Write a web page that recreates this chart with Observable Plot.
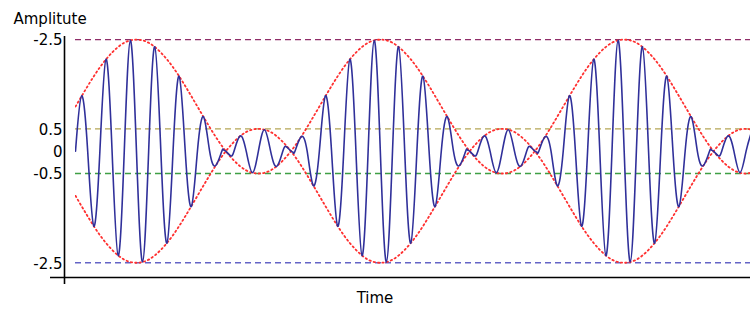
<!DOCTYPE html>
<html><head><meta charset="utf-8">
<script src="https://cdn.jsdelivr.net/npm/d3@7"></script>
<script src="https://cdn.jsdelivr.net/npm/@observablehq/plot@0.6"></script>
<style>body{margin:0;background:#fff}</style>
</head><body><div id="chart"></div>
<script>
// Signal: zero crossings and extrema
const sigT = [
  0,0.25,0.5,0.75,1,1.25,1.5,1.75,2,2.25,2.5,2.75,3,3.25,3.5,3.75,4,4.25,4.5,4.75,5,5.25,5.5,5.75,6,6.07,6.16,6.35,6.5,6.75,7,7.25,7.5,7.75,8,8.25,8.5,8.65,8.84,8.93,9,9.25,9.5,9.75,
  10,10.25,10.5,10.75,11,11.25,11.5,11.75,12,12.25,12.5,12.75,13,13.25,13.5,13.75,14,14.25,14.5,14.75,15,15.25,15.5,15.75,16,16.07,16.16,16.35,16.5,16.75,17,17.25,17.5,17.75,18,18.25,18.5,18.65,18.84,18.93,19,19.25,19.5,19.75,
  20,20.25,20.5,20.75,21,21.25,21.5,21.75,22,22.25,22.5,22.75,23,23.25,23.5,23.75,24,24.25,24.5,24.75,25,25.25,25.5,25.75,26,26.07,26.16,26.35,26.5,26.75,27,27.25,27.5,27.75
];
const sigV = [
  0,1.24,0,-1.68,0,2.06,0,-2.34,0,2.48,0,-2.48,0,2.34,0,-2.06,0,1.68,0,-1.24,0,0.77,0,-0.32,0,0.03,0,-0.1,0,0.34,0,-0.48,0,0.48,0,-0.34,0,0.1,0,-0.03,0,0.32,0,-0.77,
  0,1.24,0,-1.68,0,2.06,0,-2.34,0,2.48,0,-2.48,0,2.34,0,-2.06,0,1.68,0,-1.24,0,0.77,0,-0.32,0,0.03,0,-0.1,0,0.34,0,-0.48,0,0.48,0,-0.34,0,0.1,0,-0.03,0,0.32,0,-0.77,
  0,1.24,0,-1.68,0,2.06,0,-2.34,0,2.48,0,-2.48,0,2.34,0,-2.06,0,1.68,0,-1.24,0,0.77,0,-0.32,0,0.03,0,-0.1,0,0.34,0,-0.48,0,0.48
];
// Envelope (red dotted curves)
const envT = [0,0.5,1,1.5,2,2.5,3,3.5,4,4.5,5,5.5,6,6.5,7,7.5,8,8.5,9,9.5,10,10.5,11,11.5,12,12.5,13,13.5,14,14.5,15,15.5,16,16.5,17,17.5,18,18.5,19,19.5,20,20.5,21,21.5,22,22.5,23,23.5,24,24.5,25,25.5,26,26.5,27,27.5,28];
const envUpper = [1,1.46,1.88,2.21,2.43,2.5,2.43,2.21,1.88,1.46,1,0.54,0.12,-0.21,-0.43,-0.5,-0.43,-0.21,0.12,0.54,
  1,1.46,1.88,2.21,2.43,2.5,2.43,2.21,1.88,1.46,1,0.54,0.12,-0.21,-0.43,-0.5,-0.43,-0.21,0.12,0.54,
  1,1.46,1.88,2.21,2.43,2.5,2.43,2.21,1.88,1.46,1,0.54,0.12,-0.21,-0.43,-0.5,-0.43];
const envLower = [-1,-1.46,-1.88,-2.21,-2.43,-2.5,-2.43,-2.21,-1.88,-1.46,-1,-0.54,-0.12,0.21,0.43,0.5,0.43,0.21,-0.12,-0.54,
  -1,-1.46,-1.88,-2.21,-2.43,-2.5,-2.43,-2.21,-1.88,-1.46,-1,-0.54,-0.12,0.21,0.43,0.5,0.43,0.21,-0.12,-0.54,
  -1,-1.46,-1.88,-2.21,-2.43,-2.5,-2.43,-2.21,-1.88,-1.46,-1,-0.54,-0.12,0.21,0.43,0.5,0.43];
// Horizontal reference levels
const guideValues = [2.5, 0.5, -0.5, -2.5];
const guideNames = ["top", "upper", "lower", "bottom"];
// Axis ticks
const tickValues = [2.5, 0.5, 0, -0.5, -2.5];
const tickLabels = ["-2.5", "0.5", "0", "-0.5", "-2.5"];
const xDomain = [0, 27.68];
const yDomain = [-2.83, 2.57];

const guideColor = {top: "#8f2d68", upper: "#b5a655", lower: "#3f9f45", bottom: "#6464c6"};

const signal = sigT.map((t, i) => ({t, v: sigV[i]}));
const upper = envT.map((t, i) => ({t, v: envUpper[i]}));
const lower = envT.map((t, i) => ({t, v: envLower[i]}));
const guides = guideValues.map((v, i) => ({v, c: guideColor[guideNames[i]]}));
const ticks = tickValues.map((v, i) => ({v, label: tickLabels[i]}));

const chart = Plot.plot({
  width: 750, height: 317,
  marginLeft: 75, marginRight: 0, marginTop: 36, marginBottom: 40,
  x: {domain: xDomain, axis: null},
  y: {domain: yDomain, axis: null},
  color: {type: "identity"},
  style: {fontFamily: "DejaVu Sans", background: "white", color: "black"},
  marks: [
    Plot.ruleY(guides, {y: "v", stroke: "c", strokeDasharray: "6,4", strokeWidth: 1.3}),
    Plot.line(upper, {x: "t", y: "v", stroke: "#ff3030", strokeWidth: 1.8, strokeDasharray: "1.4,3", strokeLinecap: "round", curve: "natural", clip: true}),
    Plot.line(lower, {x: "t", y: "v", stroke: "#ff3030", strokeWidth: 1.8, strokeDasharray: "1.4,3", strokeLinecap: "round", curve: "natural", clip: true}),
    Plot.line(signal, {x: "t", y: "v", stroke: "#30309a", strokeWidth: 1.6, curve: "natural", clip: true}),
    Plot.ruleX([xDomain[0]], {dx: -11, insetBottom: -7, stroke: "black", strokeWidth: 1.6}),
    Plot.ruleY([yDomain[0]], {insetLeft: -25, stroke: "black", strokeWidth: 1.6}),
    Plot.text(ticks, {y: "v", text: "label", frameAnchor: "left", dx: -13, dy: 1, textAnchor: "end", lineAnchor: "middle", fontSize: 15, fill: "black"}),
    Plot.text(["Amplitute"], {text: d => d, frameAnchor: "top-left", dx: -62, dy: -12.5, textAnchor: "start", lineAnchor: "bottom", fontSize: 15, fill: "black"}),
    Plot.text(["Time"], {text: d => d, frameAnchor: "bottom", dx: -38, dy: 25, lineAnchor: "bottom", fontSize: 15, fill: "black"})
  ]
});
document.getElementById("chart").appendChild(chart);
</script>
</body></html>
